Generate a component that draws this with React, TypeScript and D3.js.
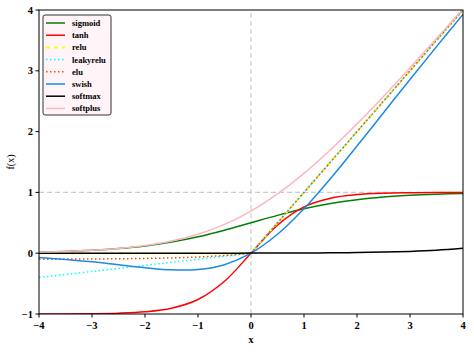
import { useRef, useEffect } from 'react';
import * as d3 from 'd3';

const W = 474;
const H = 352;
const M = { top: 10, right: 11, bottom: 38, left: 39 };

// sample positions along x
const xs = [-4, -3.5, -3, -2.5, -2, -1.5, -1, -0.5, 0, 0.5, 1, 1.5, 2, 2.5, 3, 3.5, 4];

const sigmoid = [0.018, 0.029, 0.047, 0.076, 0.119, 0.182, 0.269, 0.378, 0.5, 0.622, 0.731, 0.818, 0.881, 0.924, 0.953, 0.971, 0.982];
const tanh = [-0.999, -0.998, -0.995, -0.987, -0.964, -0.905, -0.762, -0.462, 0, 0.462, 0.762, 0.905, 0.964, 0.987, 0.995, 0.998, 0.999];
const relu = [0, 0, 0, 0, 0, 0, 0, 0, 0, 0.5, 1, 1.5, 2, 2.5, 3, 3.5, 4];
const leakyrelu = [-0.4, -0.35, -0.3, -0.25, -0.2, -0.15, -0.1, -0.05, 0, 0.5, 1, 1.5, 2, 2.5, 3, 3.5, 4];
const elu = [-0.098, -0.097, -0.095, -0.092, -0.086, -0.078, -0.063, -0.039, 0, 0.5, 1, 1.5, 2, 2.5, 3, 3.5, 4];
const swish = [-0.072, -0.103, -0.142, -0.19, -0.238, -0.274, -0.269, -0.189, 0, 0.311, 0.731, 1.226, 1.762, 2.31, 2.858, 3.398, 3.928];
const softmax = [0.0001, 0.0001, 0.0001, 0.0002, 0.0003, 0.0004, 0.0006, 0.0009, 0.0015, 0.0024, 0.004, 0.0066, 0.0108, 0.0179, 0.0294, 0.0485, 0.08];
const softplus = [0.018, 0.03, 0.049, 0.079, 0.127, 0.201, 0.313, 0.474, 0.693, 0.974, 1.313, 1.701, 2.127, 2.579, 3.049, 3.53, 4.018];

const xTicks = [-4, -3, -2, -1, 0, 1, 2, 3, 4];
const yTicks = [-1, 0, 1, 2, 3, 4];

const series = [
  { name: 'sigmoid', values: sigmoid, color: '#008000', width: 1.5, dash: null, kinked: false },
  { name: 'tanh', values: tanh, color: '#ff0000', width: 1.5, dash: null, kinked: false },
  { name: 'relu', values: relu, color: '#ffff00', width: 2, dash: '4,4', kinked: true },
  { name: 'leakyrelu', values: leakyrelu, color: '#00ffff', width: 1.5, dash: '1.5,2.5', kinked: true },
  { name: 'elu', values: elu, color: '#ff4500', width: 1.5, dash: '1.5,2.5', kinked: true },
  { name: 'swish', values: swish, color: '#1e88e5', width: 1.5, dash: null, kinked: false },
  { name: 'softmax', values: softmax, color: '#000000', width: 1.5, dash: null, kinked: false },
  { name: 'softplus', values: softplus, color: '#ffb6c1', width: 1.5, dash: null, kinked: false },
];

const FONT = '"Liberation Serif", "DejaVu Serif", serif';

export default function App() {
  const svgRef = useRef<SVGSVGElement>(null);

  useEffect(() => {
    const svg = d3.select(svgRef.current);
    svg.selectAll('*').remove();

    const x = d3.scaleLinear().domain([-4, 4]).range([M.left, W - M.right]);
    const y = d3.scaleLinear().domain([-1, 4]).range([H - M.bottom, M.top]);

    svg.append('rect').attr('width', W).attr('height', H).attr('fill', '#ffffff');

    svg
      .append('defs')
      .append('clipPath')
      .attr('id', 'plot-clip')
      .append('rect')
      .attr('x', x(-4))
      .attr('y', y(4))
      .attr('width', x(4) - x(-4))
      .attr('height', y(-1) - y(4));

    // reference dashed lines
    svg
      .append('line')
      .attr('x1', x(-4))
      .attr('x2', x(4))
      .attr('y1', y(1))
      .attr('y2', y(1))
      .attr('stroke', '#cccccc')
      .attr('stroke-width', 1.2)
      .attr('stroke-dasharray', '5,3');
    svg
      .append('line')
      .attr('x1', x(0))
      .attr('x2', x(0))
      .attr('y1', y(-1))
      .attr('y2', y(4))
      .attr('stroke', '#cccccc')
      .attr('stroke-width', 1.2)
      .attr('stroke-dasharray', '5,3');

    const plot = svg.append('g').attr('clip-path', 'url(#plot-clip)');
    series.forEach((s) => {
      const line = d3
        .line<number>()
        .x((_, i) => x(xs[i]))
        .y((d) => y(d))
        .curve(s.kinked ? d3.curveLinear : d3.curveCatmullRom.alpha(0.5));
      plot
        .append('path')
        .attr('d', line(s.values))
        .attr('fill', 'none')
        .attr('stroke', s.color)
        .attr('stroke-width', s.width)
        .attr('stroke-dasharray', s.dash ?? null);
    });

    // frame
    svg
      .append('rect')
      .attr('x', x(-4))
      .attr('y', y(4))
      .attr('width', x(4) - x(-4))
      .attr('height', y(-1) - y(4))
      .attr('fill', 'none')
      .attr('stroke', '#000000')
      .attr('stroke-width', 1);

    // ticks
    xTicks.forEach((t) => {
      svg
        .append('line')
        .attr('x1', x(t))
        .attr('x2', x(t))
        .attr('y1', y(-1))
        .attr('y2', y(-1) + 3.5)
        .attr('stroke', '#000');
      svg
        .append('text')
        .attr('x', x(t))
        .attr('y', y(-1) + 15)
        .attr('text-anchor', 'middle')
        .attr('font-family', FONT)
        .attr('font-weight', 700)
        .attr('font-size', 10.5)
        .text(t < 0 ? `\u2212${-t}` : `${t}`);
    });
    yTicks.forEach((t) => {
      svg
        .append('line')
        .attr('x1', x(-4) - 3.5)
        .attr('x2', x(-4))
        .attr('y1', y(t))
        .attr('y2', y(t))
        .attr('stroke', '#000');
      svg
        .append('text')
        .attr('x', x(-4) - 6)
        .attr('y', y(t) + 3.5)
        .attr('text-anchor', 'end')
        .attr('font-family', FONT)
        .attr('font-weight', 700)
        .attr('font-size', 10.5)
        .text(t < 0 ? `\u2212${-t}` : `${t}`);
    });

    // axis labels
    svg
      .append('text')
      .attr('x', x(0))
      .attr('y', H - 9)
      .attr('text-anchor', 'middle')
      .attr('font-family', FONT)
      .attr('font-weight', 700)
      .attr('font-size', 10)
      .text('x');
    svg
      .append('text')
      .attr('transform', `translate(14, ${(y(4) + y(-1)) / 2}) rotate(-90)`)
      .attr('text-anchor', 'middle')
      .attr('font-family', FONT)
      .attr('font-size', 10)
      .text('f(x)');

    // legend
    const lg = svg.append('g').attr('transform', `translate(${x(-4) + 4}, ${y(4) + 5})`);
    lg.append('rect')
      .attr('width', 68)
      .attr('height', 100)
      .attr('rx', 2)
      .attr('fill', '#fff4f7')
      .attr('stroke', '#333333')
      .attr('stroke-width', 1);
    series.forEach((s, i) => {
      const cy = 8 + i * 12.2;
      lg.append('line')
        .attr('x1', 3)
        .attr('x2', 22)
        .attr('y1', cy)
        .attr('y2', cy)
        .attr('stroke', s.color)
        .attr('stroke-width', s.width)
        .attr('stroke-dasharray', s.dash ?? null);
      lg.append('text')
        .attr('x', 29)
        .attr('y', cy + 3)
        .attr('font-family', FONT)
        .attr('font-weight', 700)
        .attr('font-size', 8.5)
        .text(s.name);
    });
  }, []);

  return (
    <svg
      ref={svgRef}
      width={W}
      height={H}
      style={{ position: 'absolute', left: 0, top: 0, display: 'block' }}
    />
  );
}
